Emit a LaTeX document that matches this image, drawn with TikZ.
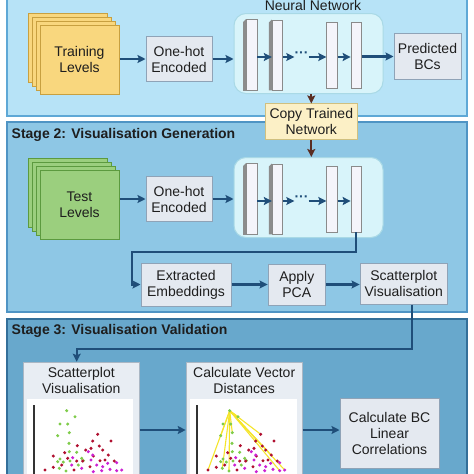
\documentclass[tikz,border=0pt]{standalone}
\usepackage{fontspec}
\setmainfont{Liberation Sans}
\usetikzlibrary{arrows.meta}
\definecolor{sonefill}{HTML}{B7E3F7}
\definecolor{soneline}{HTML}{5EA8D6}
\definecolor{stwofill}{HTML}{8EC7E5}
\definecolor{stwoline}{HTML}{4F94C4}
\definecolor{sthreefill}{HTML}{68A8CC}
\definecolor{sthreeline}{HTML}{336F99}
\definecolor{boxfill}{HTML}{E4E9F0}
\definecolor{boxline}{HTML}{8FA3B7}
\definecolor{txt}{HTML}{1E1E1E}
\definecolor{trainfill}{HTML}{F9D77E}
\definecolor{trainline}{HTML}{C8A040}
\definecolor{testfill}{HTML}{9BCF7E}
\definecolor{testline}{HTML}{5C9A3F}
\definecolor{netfill}{HTML}{D8F4FA}
\definecolor{netline}{HTML}{A9D9E6}
\definecolor{layerfill}{HTML}{F4F4FA}
\definecolor{layerline}{HTML}{8A8A8A}
\definecolor{layerside}{HTML}{8C8C8C}
\definecolor{flowblue}{HTML}{1F4E79}
\definecolor{copybrown}{HTML}{5A2D22}
\definecolor{copyfill}{HTML}{FCF0C6}
\definecolor{copyline}{HTML}{D0C080}
\definecolor{panelfill}{HTML}{E8EDF3}
\definecolor{panelline}{HTML}{AAB7C4}
\definecolor{dotgreen}{HTML}{7FCC4A}
\definecolor{dotred}{HTML}{B01030}
\definecolor{dotmag}{HTML}{CC22D4}
\definecolor{distline}{HTML}{F5E52A}
\tikzset{stage/.style={line width=2pt}}
\tikzset{title/.style={anchor=west, inner sep=0pt, text=txt, font=\fontsize{14}{16}\selectfont\bfseries}}
\tikzset{box/.style={draw=boxline, fill=boxfill, line width=1pt, align=center, inner sep=0pt, text=txt, font=\fontsize{14}{16}\selectfont}}
\tikzset{card/.style={box, minimum width=79, minimum height=69}}
\tikzset{flow/.style={line width=2.2pt, flowblue, -{Stealth[length=8pt,width=8pt,inset=1.5pt]}}}
\tikzset{copyflow/.style={flow, copybrown}}
\tikzset{netbox/.style={draw=netline, fill=netfill, line width=1pt, rounded corners=12pt, inner sep=0pt, minimum width=149, minimum height=80}}
\tikzset{layer/.style={draw=layerline, fill=layerfill, line width=.8pt, inner sep=0pt, minimum width=10.5}}
\tikzset{panel/.style={draw=panelline, fill=panelfill, line width=1pt, minimum width=116, minimum height=140, anchor=north, inner sep=0pt}}
\tikzset{gdot/.style={fill=dotgreen}}
\tikzset{rdot/.style={fill=dotred}}
\tikzset{mdot/.style={fill=dotmag}}
\newcommand{\drawcards}[3]{\foreach \k in {3,2,1} \draw[line width=1pt, #3] ({#1-39.5-3.7*\k},{#2-34.5-3.7*\k}) rectangle ++(79,69);}
\newcommand{\deeplayer}[4]{\node[layer, minimum height=#4] (#1) at (#2,#3) {};
 \fill[layerside] (#1.north west) -- ++(-3,3) |- (#1.south west) -- cycle;}
\newcommand{\flatlayer}[4]{\node[layer, minimum height=#4] (#1) at (#2,#3) {};}
\newcommand{\network}[2]{\node[netbox] (#1) at (308.5,#2-1.5) {};
 \deeplayer{#1a}{251.75}{#2}{71}
 \deeplayer{#1b}{277.5}{#2}{70}
 \flatlayer{#1c}{332}{#2}{66}
 \flatlayer{#1d}{356.3}{#2}{66}
 \node[inner sep=0pt, text=flowblue, font=\fontsize{14}{14}\selectfont\bfseries] (#1dots) at (301.5,#2) {···};
 \draw[flow] ([yshift=-2pt]#1a.east) -- ([yshift=-2pt]#1b.west);
 \draw[flow] ([yshift=-2pt]#1b.east) -- ([yshift=-2pt]#1dots.west);
 \draw[flow] ([yshift=-2pt]#1dots.east) -- ([yshift=-2pt]#1c.west);
 \draw[flow] ([yshift=-2pt]#1c.east) -- ([yshift=-2pt]#1d.west);}
\newcommand{\plotdots}{%
 \foreach \x/\y in {66.7/410.7, 75/416.7, 60/424, 67.7/424, 69.3/432.7, 57.7/435.7, 69/443.3, 76.7/452.3, 69.3/451.7, 60/459, 57.7/461.7, 70/461, 81.7/458.3, 83.3/460.7, 78.3/465, 59.3/468.3, 66/471, 63.3/462} \fill[gdot] (\x,\y) circle (1.7);
 \foreach \x/\y in {97.7/434.3, 77.3/445.7, 92.7/441, 111/441, 85.7/450, 99.3/446, 91/448.3, 64.7/452.7, 53.3/456, 102.7/450, 108.3/455, 67.7/458.3, 76.7/461, 82.7/461, 93.3/456, 100/460.7, 105/460, 61.7/465, 53.3/467.3, 45/470, 74/470, 90/466.7, 114.3/461} \fill[rdot] (\x,\y) circle (1.7);
 \foreach \x/\y in {92.7/455, 88.3/451.7, 91/460, 72.7/457.7, 71.7/465, 96.7/465, 102.7/466.7, 107.7/463.3, 116.7/462.7, 110/469.3, 116.7/470.7, 121.7/470, 101.7/470.7, 81.7/468.3, 93.3/471.7} \fill[mdot] (\x,\y) circle (1.7);}

\begin{document}
\begin{tikzpicture}[x=1pt, y=-1pt]
		\useasboundingbox (0,0) rectangle (474,474);
		\clip (0,0) rectangle (474,474);

		% Stages
		\draw[stage, fill=sonefill, draw=soneline] (7,-10) rectangle (466.5,115.5);
		\draw[stage, fill=stwofill, draw=stwoline] (7,122) rectangle (466.5,312);
		\draw[stage, fill=sthreefill, draw=sthreeline] (7,318.5) rectangle (466.5,490);
		\node[title] (ttwo) at (11.5,135) {Stage 2: Visualisation Generation};
		\node[title] (tthree) at (11.5,331) {Stage 3: Visualisation Validation};

		% Stage 1
		\drawcards{79.5}{59.5}{fill=trainfill, draw=trainline}
		\node[card, fill=trainfill, draw=trainline] (train) at (79.5,59.5) {Training\\Levels};
		\node[box, minimum width=66, minimum height=45] (oh1) at (179,59) {One-hot\\Encoded};
		\network{nn1}{55}
		\node[inner sep=0pt, text=txt, font=\fontsize{14}{16}\selectfont, anchor=base] (nnlabel) at (313,10) {Neural Network};
		\node[box, minimum width=67, minimum height=46] (pred) at (427.5,56.5) {Predicted\\BCs};
		\draw[flow] (train.east |- oh1.west) -- (oh1.west);
		\draw[flow] (oh1.east) -- (oh1.east -| nn1.west);
		\draw[flow] (nn1d.east |- pred.west) -- (pred.west);

		% Copy
		\node[box, fill=copyfill, draw=copyline, minimum width=92.5, minimum height=35.5] (copy) at (311.3,121.7) {Copy Trained\\Network};
		\draw[copyflow] (copy.north |- nn1.south) -- (copy.north);

		% Stage 2
		\drawcards{79.5}{204.5}{fill=testfill, draw=testline}
		\node[card, fill=testfill, draw=testline] (test) at (79.5,204.5) {Test\\Levels};
		\node[box, minimum width=66, minimum height=45] (oh2) at (179,199) {One-hot\\Encoded};
		\network{nn2}{199}
		\draw[copyflow] (copy.south) -- (copy.south |- nn2.north);
		\draw[flow] (test.east |- oh2.west) -- (oh2.west);
		\draw[flow] (oh2.east) -- (oh2.east -| nn2.west);
		\node[box, minimum width=90, minimum height=43] (emb) at (186,284.5) {Extracted\\Embeddings};
		\node[box, minimum width=57.5, minimum height=41] (pca) at (296.8,284.5) {Apply\\PCA};
		\node[box, minimum width=87.5, minimum height=41] (vis) at (403.8,283.7) {Scatterplot\\Visualisation};
		\coordinate (bendtwo) at (131.7,252.3);
		\draw[flow] (nn2d.south) |- (bendtwo) |- (emb.west);
		\draw[flow] (emb.east |- pca.west) -- (pca.west);
		\draw[flow] (pca.east) -- (pca.east -| vis.west);

		% Stage 3
		\node[panel] (scat) at (81.3,361.7) {};
		\node[panel] (dist) at (244.2,361.7) {};
		\node[box, minimum width=99, minimum height=69.5] (bc) at (389.5,433.7) {Calculate BC\\Linear\\Correlations};
		\node[box, draw=none, fill=none] (scattitle) at (81.3,380) {Scatterplot\\Visualisation};
		\node[box, draw=none, fill=none] (disttitle) at (244.2,380) {Calculate Vector\\Distances};
		\coordinate (bendthree) at (76.7,349.3);
		\draw[flow] ([xshift=8.5pt]vis.south) |- (bendthree) -- (bendthree |- scat.north);
		\draw[flow] (scat.east |- 0,430) -- (dist.west |- 0,430);
		\draw[flow] (dist.east |- 0,430) -- (bc.west |- 0,430);

		% Plots
		\fill[white] (27.3,399) rectangle (133.3,490);
		\draw[line width=1.8pt, black!80] (34,405.3) -- (34,490);
		\plotdots
		\begin{scope}[xshift=163pt]
			\fill[white] (27,399) rectangle (133.7,490);
			\draw[line width=1.8pt, black!80] (34.3,405.3) -- (34.3,490);
			\foreach \x/\y in {45/470, 57.7/435.7, 59.3/468.3, 69.3/432.7, 75/416.7, 97.7/434.3, 108.3/455, 116.7/470.7, 121.7/470, 66/471, 99.3/446}
				\draw[distline, line width=1.1pt] (66.7,410.7) -- (\x,\y);
			\plotdots
		\end{scope}
	\end{tikzpicture}
\end{document}
